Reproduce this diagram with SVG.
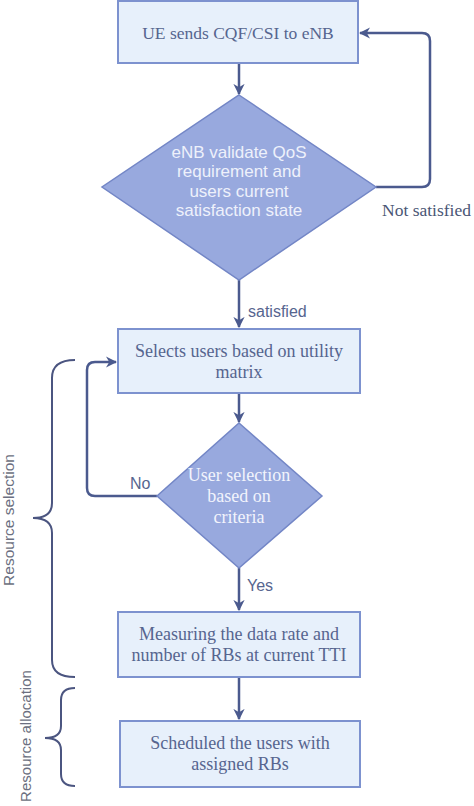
<svg xmlns="http://www.w3.org/2000/svg" width="474" height="806" viewBox="0 0 474 806">
<defs>
<marker id="ah" viewBox="0 0 10 10" refX="9" refY="5" markerWidth="4.5" markerHeight="4.5" orient="auto" markerUnits="strokeWidth">
<path d="M0,0 L10,5 L0,10 L3,5 Z" fill="#4b5a8e"/>
</marker>
<style>
.box{fill:#e7f0fb;stroke:#7d92cf;stroke-width:2}
.dia{fill:#98a9de;stroke:#7386c6;stroke-width:1.5}
.bt{font-family:"Liberation Serif",serif;font-size:18px;fill:#56658f;text-anchor:middle}
.dt{font-family:"Liberation Sans",sans-serif;font-size:17px;fill:#eef1fb;text-anchor:middle}
.dt2{font-family:"Liberation Serif",serif;font-size:18px;fill:#f2f4fc;text-anchor:middle}
.lbl{font-family:"Liberation Sans",sans-serif;font-size:16px;fill:#56658f}
.lbs{font-family:"Liberation Serif",serif;font-size:17.5px;fill:#4a5675}
.side{font-family:"Liberation Sans",sans-serif;font-size:15.5px;fill:#6b6f80;text-anchor:middle}
.con{fill:none;stroke:#4b5a8e;stroke-width:2.5}
.brace{fill:none;stroke:#4b5580;stroke-width:2}
</style>
</defs>
<rect width="474" height="806" fill="#ffffff"/>
<g id="connectors">
<path class="con" d="M239,64 V94" marker-end="url(#ah)"/>
<path class="con" d="M376,187 H422 Q430,187 430,179 V41 Q430,33 422,33 H360" marker-end="url(#ah)"/>
<path class="con" d="M239,280 V327" marker-end="url(#ah)"/>
<path class="con" d="M239,393 V422" marker-end="url(#ah)"/>
<path class="con" d="M157,496 H95 Q87,496 87,488 V370 Q87,362 95,362 H116" marker-end="url(#ah)"/>
<path class="con" d="M239,568 V610" marker-end="url(#ah)"/>
<path class="con" d="M239,677 V719" marker-end="url(#ah)"/>
</g>
<g id="n1">
<rect class="box" x="118" y="1" width="240" height="62"/>
<text class="bt" x="238" y="39" style="font-size:17.5px">UE sends CQF/CSI to eNB</text>
</g>
<g id="n2">
<polygon class="dia" points="239,95 376,187 239,280 102,187"/>
<text class="dt" x="239" y="158">eNB validate QoS</text>
<text class="dt" x="239" y="177">requirement and</text>
<text class="dt" x="239" y="197">users current</text>
<text class="dt" x="239" y="216">satisfaction state</text>
</g>
<text class="lbs" x="382" y="216">Not satisfied</text>
<text class="lbl" x="248" y="317">satisfied</text>
<g id="n3">
<rect class="box" x="118" y="329" width="242" height="64"/>
<text class="bt" x="239" y="357">Selects users based on utility</text>
<text class="bt" x="239" y="378">matrix</text>
</g>
<g id="n4">
<polygon class="dia" points="239,423 322,496 239,568 157,496"/>
<text class="dt2" x="239" y="481">User selection</text>
<text class="dt2" x="239" y="502">based on</text>
<text class="dt2" x="239" y="523">criteria</text>
</g>
<text class="lbl" x="130" y="489">No</text>
<text class="lbl" x="247" y="591">Yes</text>
<g id="n5">
<rect class="box" x="118" y="612" width="242" height="65"/>
<text class="bt" x="239" y="640">Measuring the data rate and</text>
<text class="bt" x="239" y="661">number of RBs at current TTI</text>
</g>
<g id="n6">
<rect class="box" x="120" y="721" width="240" height="66"/>
<text class="bt" x="240" y="749">Scheduled the users with</text>
<text class="bt" x="240" y="770">assigned RBs</text>
</g>
<g id="brace1">
<path class="brace" d="M75,360 Q52,360 52,378 V503 Q52,518 33,518 Q52,518 52,533 V660 Q52,677 75,677"/>
<text class="side" transform="translate(14,520) rotate(-90)">Resource selection</text>
</g>
<g id="brace2">
<path class="brace" d="M75,688 Q61,688 61,700 V726 Q61,738 45,738 Q61,738 61,750 V774 Q61,786 75,786"/>
<text class="side" transform="translate(31,736) rotate(-90)" style="font-size:15px">Resource allocation</text>
</g>
</svg>
